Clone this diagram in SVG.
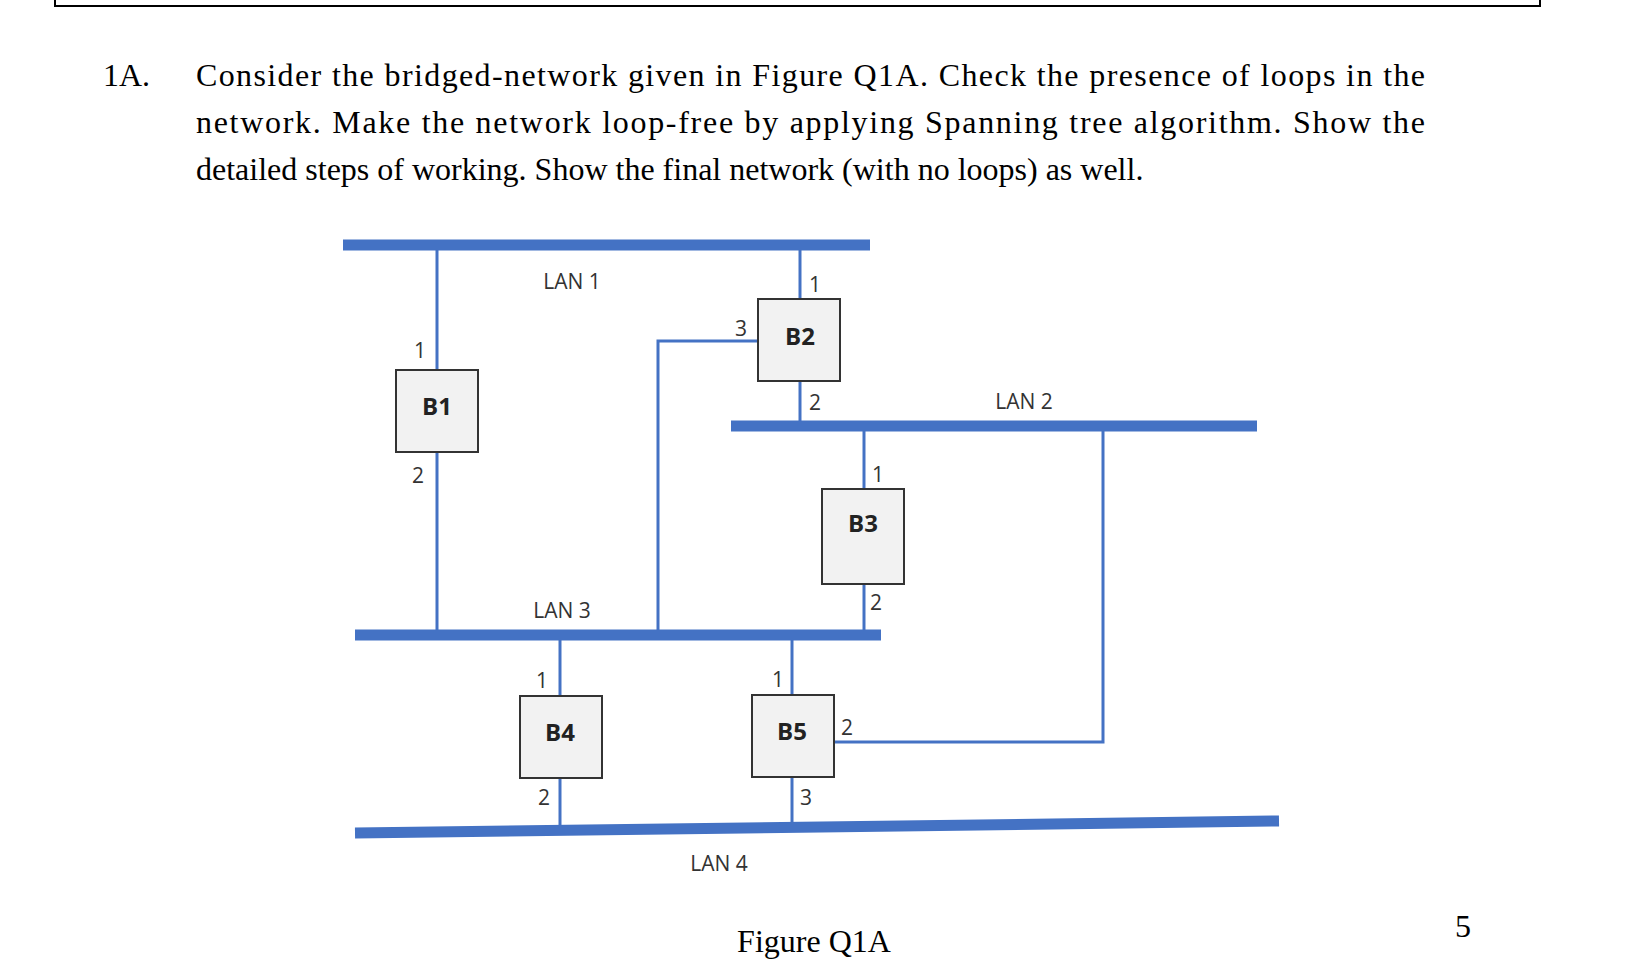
<svg xmlns="http://www.w3.org/2000/svg" width="1645" height="980" viewBox="0 0 1645 980">
<style>
.q{font-family:"Liberation Serif","Times New Roman",serif;font-size:32px;fill:#000}
.bar{stroke:#4472c4;stroke-width:11;fill:none}
.ln{stroke:#4472c4;stroke-width:3;fill:none}
.box{fill:#f2f2f2;stroke:#333;stroke-width:2}
.bl{font-family:"Open Sans","DejaVu Sans",sans-serif;font-size:24px;font-weight:bold;fill:#222;text-anchor:middle}
.pl{font-family:"Open Sans","DejaVu Sans",sans-serif;font-size:21px;fill:#333;text-anchor:middle}
</style>
<rect width="1645" height="980" fill="#fff"/>
<path d="M55,0 V6 H1540 V0" fill="none" stroke="#000" stroke-width="2"/>
<text class="q" x="103" y="86">1A.</text>
<text class="q" x="196" y="86" textLength="1229" lengthAdjust="spacing">Consider the bridged-network given in Figure Q1A. Check the presence of loops in the</text>
<text class="q" x="196" y="133" textLength="1229" lengthAdjust="spacing">network. Make the network loop-free by applying Spanning tree algorithm. Show the</text>
<text class="q" x="196" y="180">detailed steps of working. Show the final network (with no loops) as well.</text>
<g id="connectors">
<line class="bar" x1="343" y1="245" x2="870" y2="245"/>
<line class="bar" x1="731" y1="426" x2="1257" y2="426"/>
<line class="bar" x1="355" y1="635" x2="881" y2="635"/>
<line class="bar" x1="355" y1="833" x2="1279" y2="821"/>
<line class="ln" x1="437" y1="245" x2="437" y2="635"/>
<line class="ln" x1="800" y1="245" x2="800" y2="426"/>
<polyline class="ln" points="758,341 658,341 658,635"/>
<line class="ln" x1="864" y1="426" x2="864" y2="635"/>
<polyline class="ln" points="1103,426 1103,742 835,742"/>
<line class="ln" x1="560" y1="635" x2="560" y2="832"/>
<line class="ln" x1="792" y1="635" x2="792" y2="829"/>
</g>
<g id="B1"><rect class="box" x="396" y="370" width="82" height="82"/><text class="bl" x="437" y="415">B1</text><text class="pl" x="420" y="358">1</text><text class="pl" x="418" y="483">2</text></g>
<g id="B2"><rect class="box" x="758" y="299" width="82" height="82"/><text class="bl" x="800" y="345">B2</text><text class="pl" x="815" y="292">1</text><text class="pl" x="815" y="410">2</text><text class="pl" x="741" y="336">3</text></g>
<g id="B3"><rect class="box" x="822" y="489" width="82" height="95"/><text class="bl" x="863" y="532">B3</text><text class="pl" x="878" y="482">1</text><text class="pl" x="876" y="610">2</text></g>
<g id="B4"><rect class="box" x="520" y="696" width="82" height="82"/><text class="bl" x="560" y="741">B4</text><text class="pl" x="542" y="688">1</text><text class="pl" x="544" y="805">2</text></g>
<g id="B5"><rect class="box" x="752" y="695" width="82" height="82"/><text class="bl" x="792" y="740">B5</text><text class="pl" x="778" y="687">1</text><text class="pl" x="847" y="735">2</text><text class="pl" x="806" y="805">3</text></g>
<g id="labels">
<text class="pl" x="572" y="289">LAN 1</text>
<text class="pl" x="1024" y="409">LAN 2</text>
<text class="pl" x="562" y="618">LAN 3</text>
<text class="pl" x="719" y="871">LAN 4</text>
</g>
<text class="q" x="814" y="952" text-anchor="middle">Figure Q1A</text>
<text class="q" x="1463" y="937" text-anchor="middle">5</text>
</svg>
